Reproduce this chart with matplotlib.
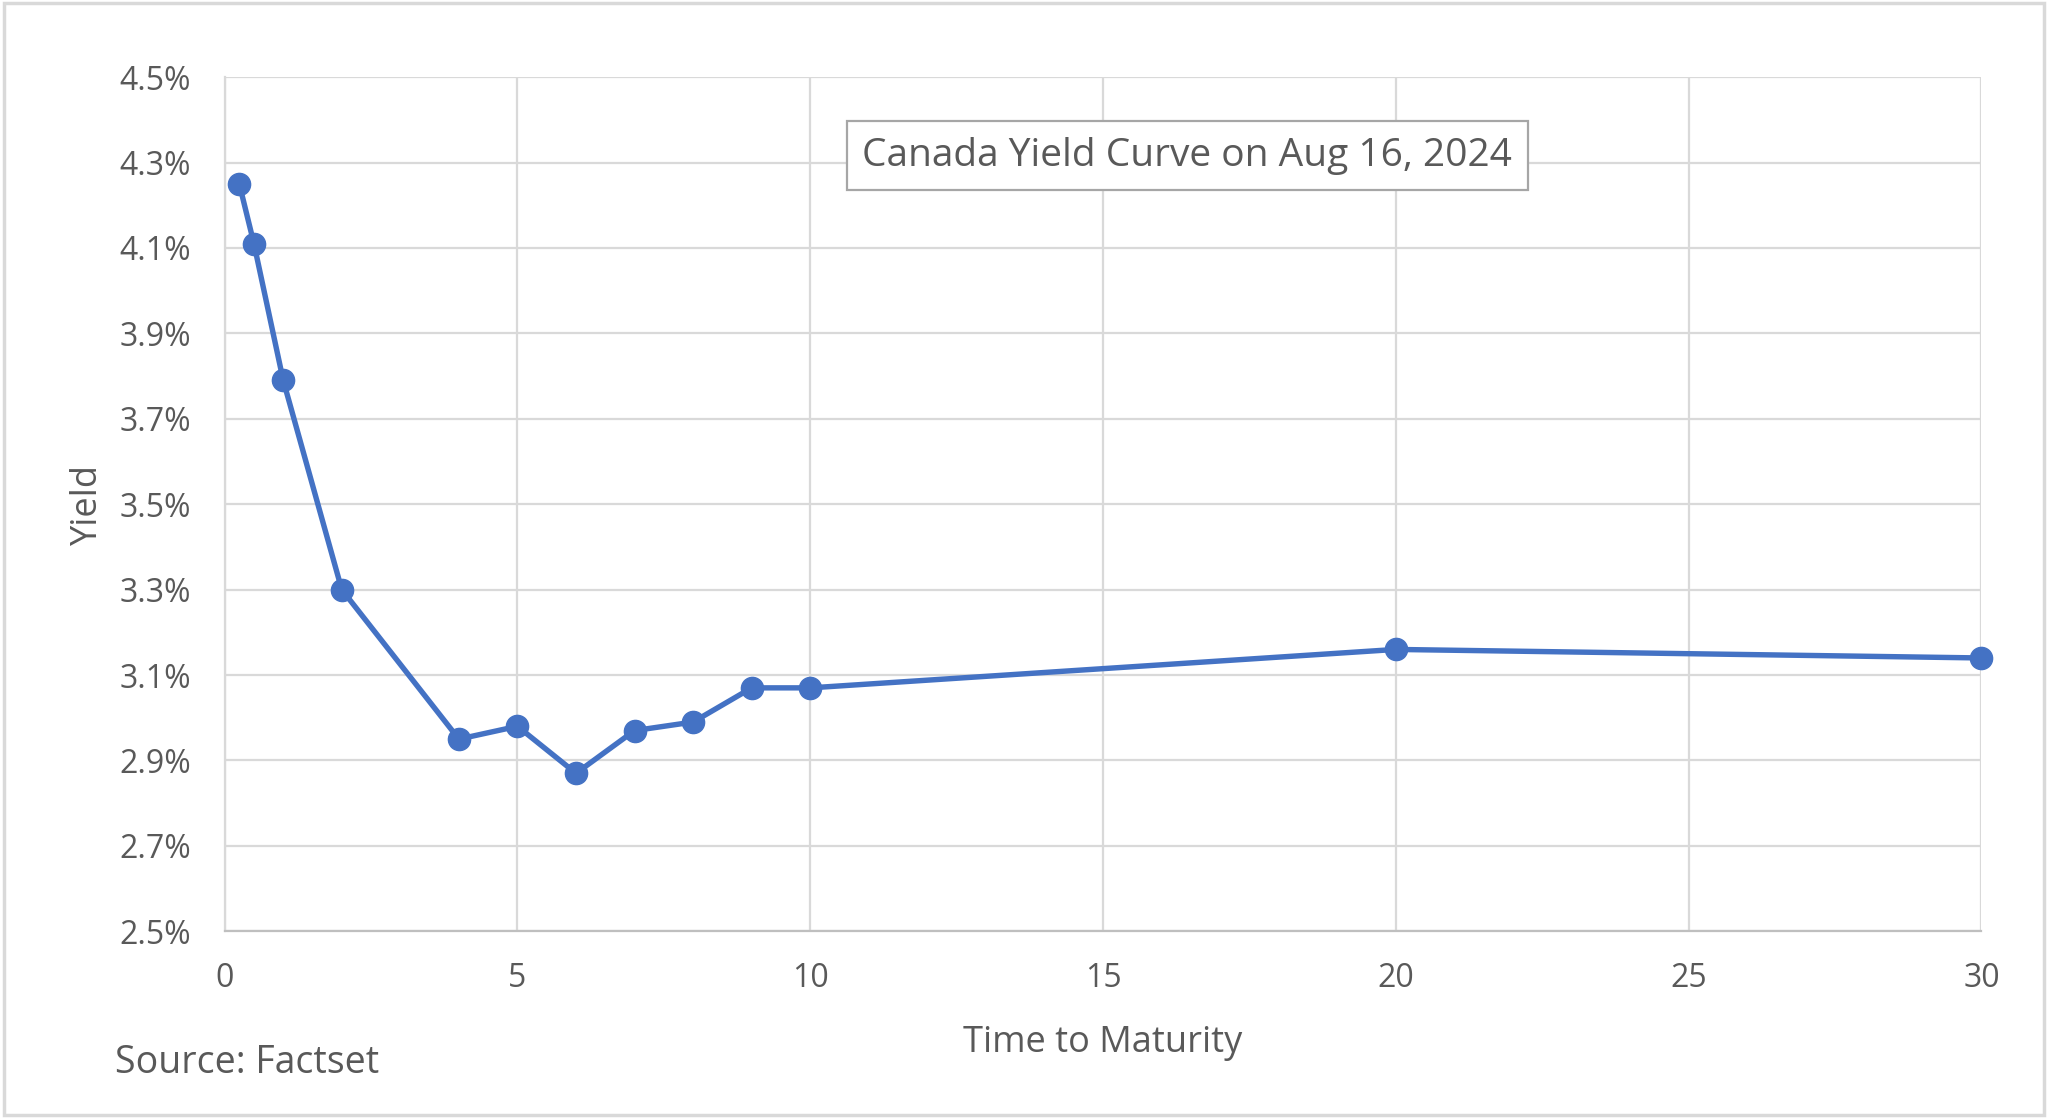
import matplotlib.pyplot as plt
from matplotlib.ticker import FuncFormatter
from matplotlib.patches import Rectangle

plt.rcParams['font.family'] = ['Open Sans', 'DejaVu Sans']

# Canada yield curve, Aug 16 2024
maturity = [0.25, 0.5, 1, 2, 4, 5, 6, 7, 8, 9, 10, 20, 30]
yields = [4.25, 4.11, 3.79, 3.30, 2.95, 2.98, 2.87, 2.97, 2.99, 3.07, 3.07, 3.16, 3.14]
y_ticks = [2.5, 2.7, 2.9, 3.1, 3.3, 3.5, 3.7, 3.9, 4.1, 4.3, 4.5]
x_ticks = [0, 5, 10, 15, 20, 25, 30]

blue = '#4472C4'
grey_text = '#595959'
grid_col = '#D9D9D9'

fig = plt.figure(figsize=(20.48, 11.18), dpi=100)
ax = fig.add_axes([0.1097, 0.167, 0.8578, 0.764])

ax.plot(maturity, yields, color=blue, lw=3.9, marker='o', markersize=16,
        zorder=3, clip_on=False)

ax.set_xlim(0, 30)
ax.set_ylim(2.5, 4.5)
ax.set_xticks(x_ticks)
ax.set_yticks(y_ticks)
ax.yaxis.set_major_formatter(FuncFormatter(lambda v, p: '%.1f%%' % v))
ax.grid(True, color=grid_col, lw=1.6, zorder=0)
ax.tick_params(length=0, labelsize=23, colors=grey_text)
ax.tick_params(axis='y', pad=24)
ax.tick_params(axis='x', pad=22)

for s in ['top', 'right']:
    ax.spines[s].set_visible(False)
ax.spines['left'].set_color(grid_col)
ax.spines['left'].set_linewidth(1.6)
ax.spines['bottom'].set_color('#BFBFBF')
ax.spines['bottom'].set_linewidth(1.6)

ax.set_xlabel('Time to Maturity', fontsize=26, color=grey_text, labelpad=22)
ax.set_ylabel('Yield', fontsize=26, color=grey_text, labelpad=10)

ax.text(0.548, 0.908, 'Canada Yield Curve on Aug 16, 2024', transform=ax.transAxes,
        ha='center', va='center', fontsize=28, color=grey_text, zorder=5,
        bbox=dict(boxstyle='square,pad=0.4', fc='white', ec='#A6A6A6', lw=1.6))

fig.text(0.056, 0.049, 'Source: Factset', fontsize=27, color=grey_text,
         ha='left', va='center')

# outer chart border
fig.patches.append(Rectangle((0.002, 0.003), 0.996, 0.994, transform=fig.transFigure,
                             fill=False, ec='#D9D9D9', lw=2.5))

fig.savefig('out.png', dpi=100)
